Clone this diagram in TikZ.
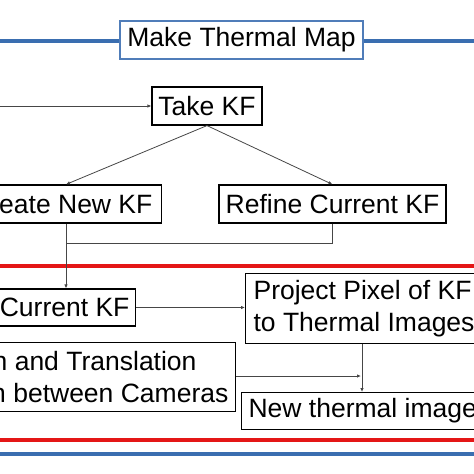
\documentclass[tikz,border=0pt]{standalone}
\usepackage{fontspec}
\setmainfont{Liberation Sans}
\usetikzlibrary{arrows.meta}
\definecolor{bandblue}{RGB}{58,110,176}
\definecolor{titleblue}{RGB}{80,125,185}
\definecolor{bandred}{RGB}{228,22,22}
\definecolor{linkgray}{RGB}{70,70,70}
\begin{document}
\begin{tikzpicture}[x=1pt,y=-1pt,
  every node/.style={font=\fontsize{26.5}{32}\selectfont},
  box/.style={draw=black,line width=1.2pt,inner xsep=8pt,inner ysep=0pt,minimum height=38pt},
  lbox/.style={draw=black,line width=1.2pt,inner xsep=8pt,inner ysep=0pt,align=left},
  titlebox/.style={draw=titleblue,line width=1.2pt,inner sep=0pt,minimum height=38pt,minimum width=243pt},
  band/.style={line width=4pt},
  link/.style={draw=linkgray,line width=0.8pt},
  arr/.style={link,-{Latex[length=4pt,width=3.5pt]}}
]
\useasboundingbox (0,0) rectangle (474,474);
% bands
\draw[band,bandred] (0,266) -- (474,266);
\draw[band,bandred] (0,440) -- (474,440);
\draw[band,bandblue] (0,454) -- (474,454);
% title
\node[titlebox] (title) at (241.5,40) {Make Thermal Map};
\draw[band,bandblue] (0,41) -- (title.west |- 0,41);
\draw[band,bandblue] (title.east |- 0,41) -- (474,41);
% boxes
\node[box,inner xsep=0pt,minimum width=110pt] (take) at (207,106) {Take KF};
\node[box,inner xsep=9pt,anchor=east] (create) at (162,204) {Create New KF};
\node[box,inner xsep=0pt,minimum width=227pt] (refine) at (332.5,204) {Refine Current KF};
\node[box,inner xsep=6pt,minimum height=37pt,anchor=east] (current) at (136,307.5) {Current KF};
\node[lbox,minimum height=70pt,anchor=north west] (project) at (245,273)
  {Project Pixel of KF\\to Thermal Images};
\node[lbox,inner xsep=7pt,minimum height=69pt,anchor=north east] (rot) at (236,342)
  {Rotation and Translation\\Relation between Cameras};
\node[box,inner xsep=7pt,minimum height=37pt,anchor=north west] (newt) at (241,392)
  {New thermal image};
% connectors
\coordinate (start) at (0,106);
\coordinate (join) at (66,243);
\coordinate (vx) at (362,0);
\coordinate (meet) at (361,376);
\draw[arr] (start) -- (take.west);
\draw[arr] (take.south) -- (create.north -| join);
\draw[arr] (take.south) -- (refine.north);
\draw[link] (refine.south) |- (join);
\draw[arr] (create.south -| join) -- (current.north -| join);
\draw[arr] (current.east) -- (project.west |- current.east);
\draw[arr] (rot.east |- meet) -- (meet);
\draw[arr] (project.south -| vx) -- (newt.north -| vx);
\end{tikzpicture}
\end{document}
